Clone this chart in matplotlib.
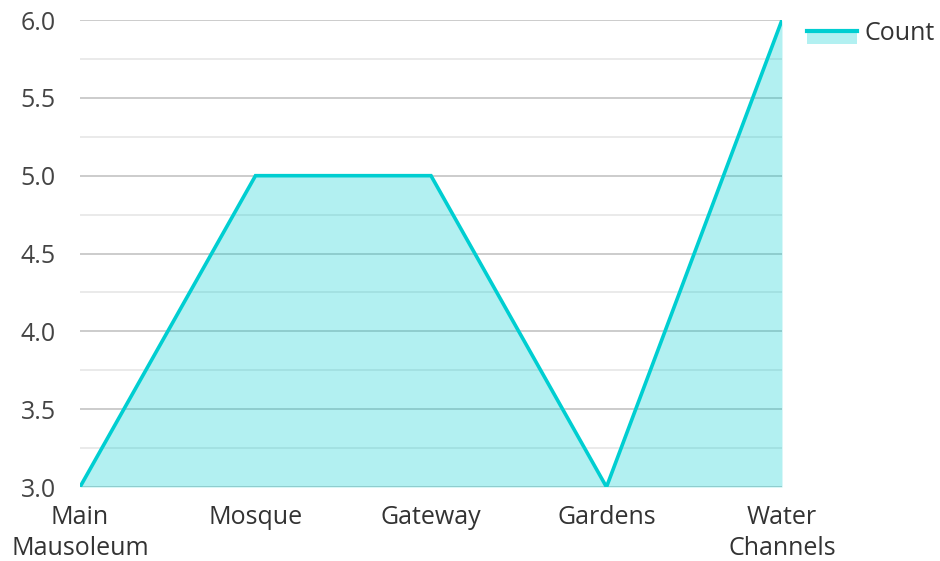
import matplotlib
matplotlib.use("Agg")
import matplotlib.pyplot as plt
from matplotlib.legend_handler import HandlerBase
from matplotlib.patches import Rectangle
from matplotlib.lines import Line2D
import numpy as np

plt.rcParams['font.family'] = ['Open Sans', 'DejaVu Sans']

categories = ["Main\nMausoleum", "Mosque", "Gateway", "Gardens", "Water\nChannels"]
counts = [3, 5, 5, 3, 6]

LINE = "#00CED1"
FS = 18


class AreaHandler(HandlerBase):
    # line on top edge, light fill underneath
    def create_artists(self, legend, orig, xd, yd, w, h, fontsize, trans):
        y0 = yd + h * 0.5
        rect = Rectangle((xd, y0 - h * 0.75), w, h * 0.75, facecolor=LINE,
                         alpha=0.3, edgecolor="none", transform=trans)
        ln = Line2D([xd, xd + w], [y0, y0], color=LINE, lw=3, transform=trans)
        return [rect, ln]


fig = plt.figure(figsize=(9.4, 5.61), dpi=100)
ax = fig.add_axes([0.0851, 0.1319, 0.7468, 0.8324])

x = np.arange(len(categories))
ax.fill_between(x, counts, 3, color=LINE, alpha=0.3, lw=0, zorder=3)
ax.plot(x, counts, color=LINE, lw=2.6, zorder=4, solid_joinstyle="miter")

ax.set_xlim(0, len(categories) - 1)
ax.set_ylim(3, 6)
ax.set_yticks(np.arange(3, 6.01, 0.5))
ax.set_yticks(np.arange(3.25, 6, 0.5), minor=True)
ax.set_yticklabels([f"{v:.1f}" for v in np.arange(3, 6.01, 0.5)])
ax.set_xticks(x)
ax.set_xticklabels(categories)

ax.grid(axis="y", which="major", color="#c8c8c8", lw=1.3, zorder=1)
ax.grid(axis="y", which="minor", color="#e8e8e8", lw=1.3, zorder=1)
ax.grid(axis="x", visible=False)
ax.set_axisbelow(True)
for s in ax.spines.values():
    s.set_visible(False)
ax.tick_params(axis="both", which="both", length=0)
ax.tick_params(axis="y", labelsize=FS, labelcolor="#444444", pad=17.5)
ax.tick_params(axis="x", labelsize=FS, labelcolor="#333333", pad=13)
for lbl in ax.get_xticklabels():
    lbl.set_linespacing(1.3)

leg = ax.legend([object()], ["Count"], handler_map={object: AreaHandler()},
                loc="upper left", bbox_to_anchor=(1.003, 1.047), frameon=False,
                fontsize=FS, handlelength=2.0, handletextpad=0.3)
for t in leg.get_texts():
    t.set_color("#333333")

fig.savefig("out.png", dpi=100)
